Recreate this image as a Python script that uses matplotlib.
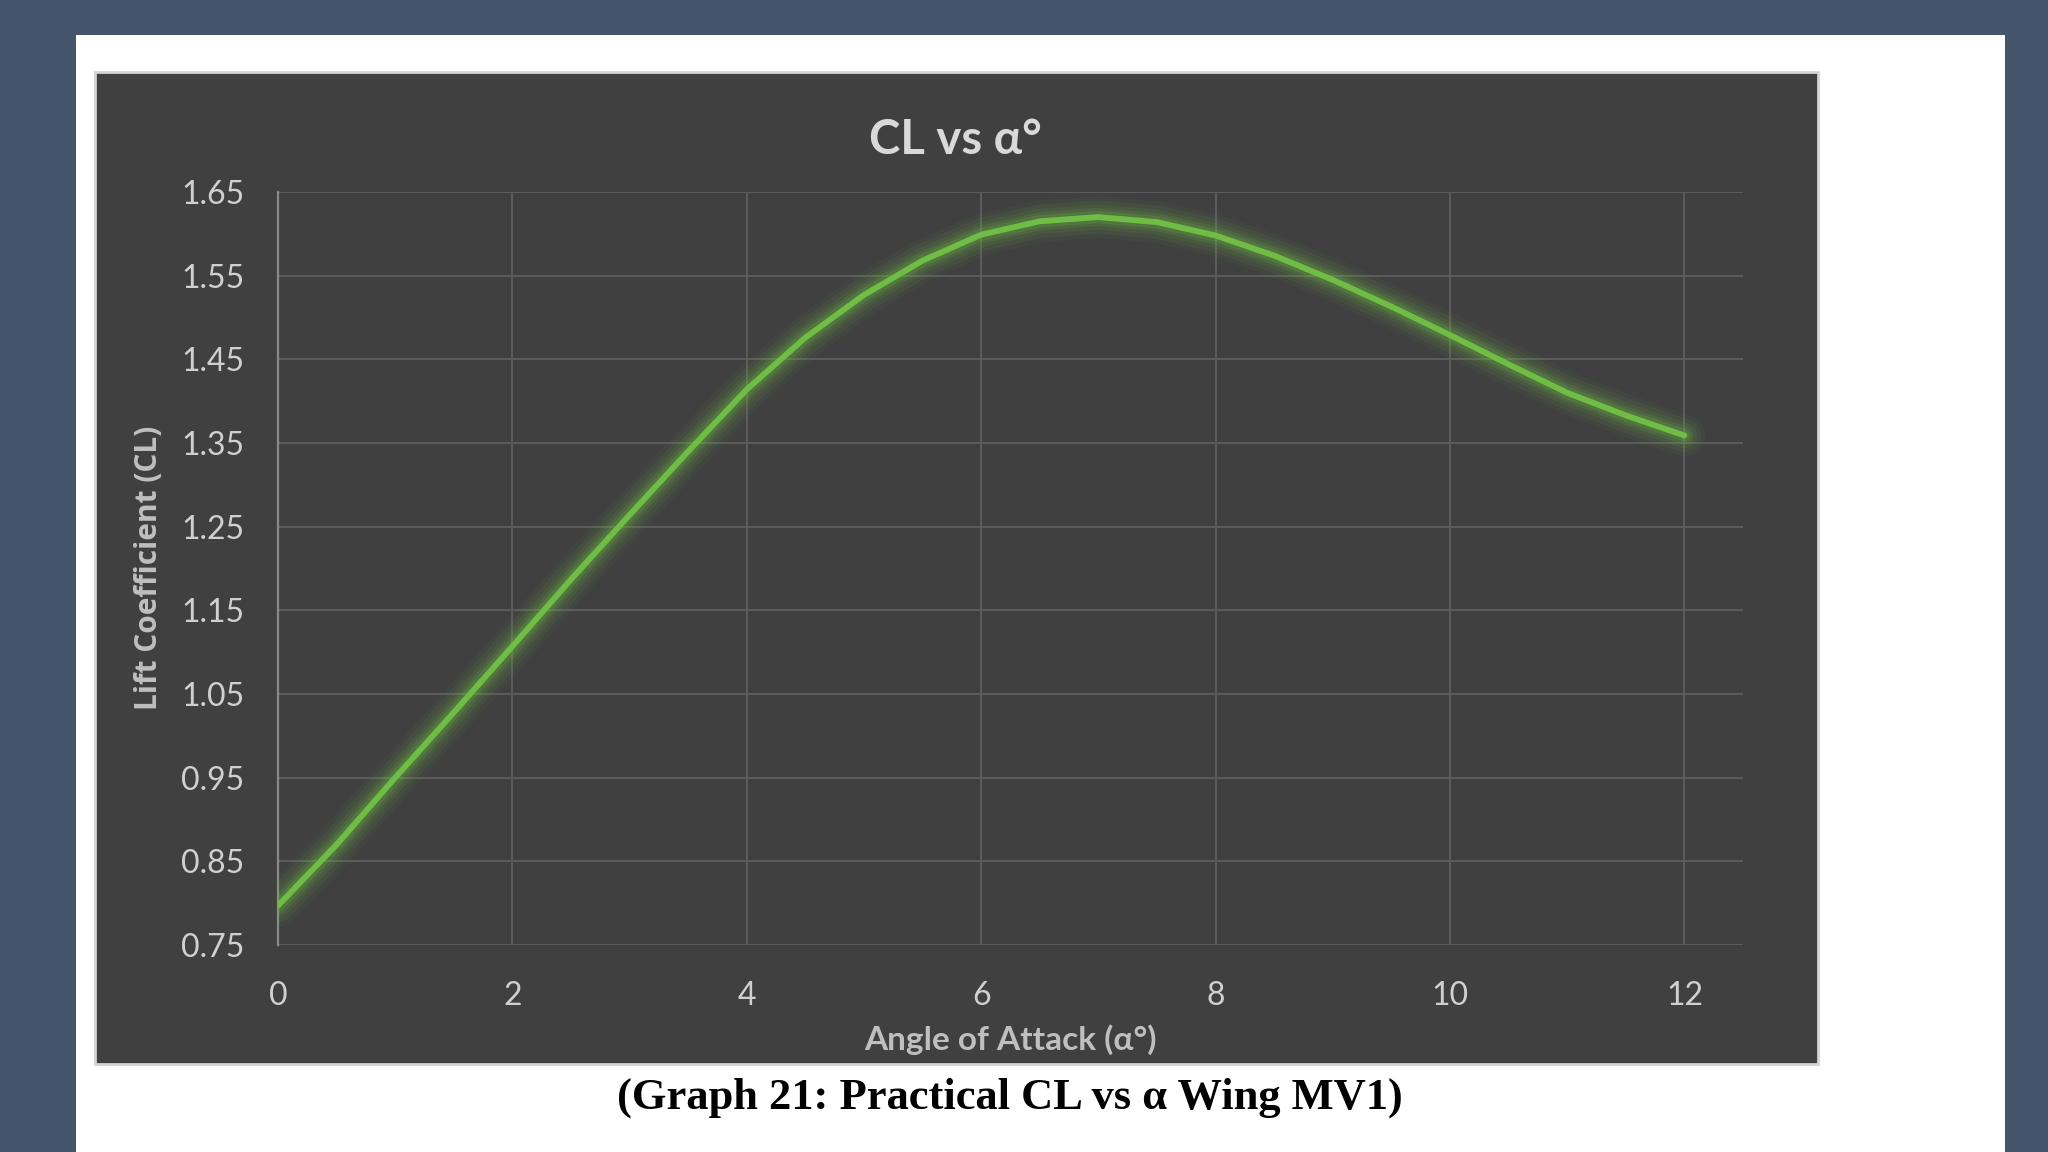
import matplotlib
matplotlib.use("Agg")
import matplotlib.pyplot as plt
from matplotlib.patches import Rectangle
import numpy as np

# ---- data ----
alpha = [0, 0.5, 1, 1.5, 2, 2.5, 3, 3.5, 4, 4.5, 5, 5.5, 6,
         6.5, 7, 7.5, 8, 8.5, 9, 9.5, 10, 10.5, 11, 11.5, 12]
cl = [0.797, 0.870, 0.950, 1.028, 1.107, 1.187, 1.264, 1.340, 1.414,
      1.476, 1.527, 1.568, 1.599, 1.615, 1.620, 1.614, 1.598, 1.574,
      1.545, 1.513, 1.479, 1.444, 1.410, 1.383, 1.359]
x_ticks = [0, 2, 4, 6, 8, 10, 12]
y_ticks = [0.75, 0.85, 0.95, 1.05, 1.15, 1.25, 1.35, 1.45, 1.55, 1.65]
y_tick_labels = ["0.75", "0.85", "0.95", "1.05", "1.15", "1.25", "1.35",
                 "1.45", "1.55", "1.65"]

title = "CL vs α°"
xlabel = "Angle of Attack (α°)"
ylabel = "Lift Coefficient (CL)"
caption = "(Graph 21: Practical CL vs α Wing MV1)"

W, H = 2048, 1152
fig = plt.figure(figsize=(W / 100, H / 100), dpi=100)
fig.patch.set_facecolor("#44546a")

def fx(px):
    return px / W

def fy(py):
    return 1 - py / H

# white page
fig.patches.append(Rectangle((fx(76), 0), fx(2005) - fx(76), fy(35),
                             transform=fig.transFigure, facecolor="white",
                             edgecolor="none", zorder=-3))
# chart area
fig.patches.append(Rectangle((fx(95), fy(1064)), fx(1818) - fx(95),
                             fy(72) - fy(1064), transform=fig.transFigure,
                             facecolor="#404040", edgecolor="#d4d4d4",
                             linewidth=2.0, zorder=-2))

ax = fig.add_axes([fx(278), fy(945), fx(1743) - fx(278), fy(192) - fy(945)])
ax.set_zorder(5)
ax.set_facecolor("#404040")
ax.set_xlim(0, 12.5)
ax.set_ylim(0.75, 1.65)

for s in ["top", "right", "bottom"]:
    ax.spines[s].set_visible(False)
ax.spines["left"].set_color("#8a8a8a")
ax.spines["left"].set_linewidth(1.6)
ax.spines["left"].set_zorder(2)

ax.set_xticks(x_ticks)
ax.set_yticks(y_ticks)
ax.set_yticklabels(y_tick_labels)
ax.tick_params(axis="both", length=0, labelsize=23, labelcolor="#d0d0d0")
ax.tick_params(axis="x", pad=26)
ax.tick_params(axis="y", pad=24)
for lab in ax.get_xticklabels() + ax.get_yticklabels():
    lab.set_fontfamily("Lato")

# grid lines
for yv in y_ticks:
    ax.axhline(yv, color="#5e5e5e", linewidth=1.3, zorder=1)
for xv in x_ticks[1:]:
    ax.axvline(xv, color="#5e5e5e", linewidth=1.3, zorder=1)

# glow
green = "#6fbd45"
for lw, a in [(30, 0.05), (24, 0.07), (18, 0.10), (13, 0.13), (9, 0.2)]:
    ax.plot(alpha, cl, color=green, linewidth=lw, alpha=a,
            solid_capstyle="round", solid_joinstyle="round", zorder=3)
ax.plot(alpha, cl, color=green, linewidth=4.2, solid_capstyle="round",
        solid_joinstyle="round", zorder=4)

fig.text(fx(955), fy(140), title, ha="center", va="center", fontsize=34,
         fontweight="bold", color="#d9d9d9", family="Lato")
fig.text(fx(1010), fy(1040), xlabel, ha="center", va="center", fontsize=24,
         fontweight="bold", color="#bfbfbf", family="Lato")
fig.text(fx(149), fy(568), ylabel, ha="center", va="center", fontsize=21.5,
         fontweight="bold", color="#bfbfbf", rotation=90, family="Open Sans")
fig.text(fx(1010), fy(1098), caption, ha="center", va="center", fontsize=32,
         fontweight="bold", color="black", family="Liberation Serif")

fig.savefig("out.png", dpi=100, facecolor=fig.get_facecolor())
